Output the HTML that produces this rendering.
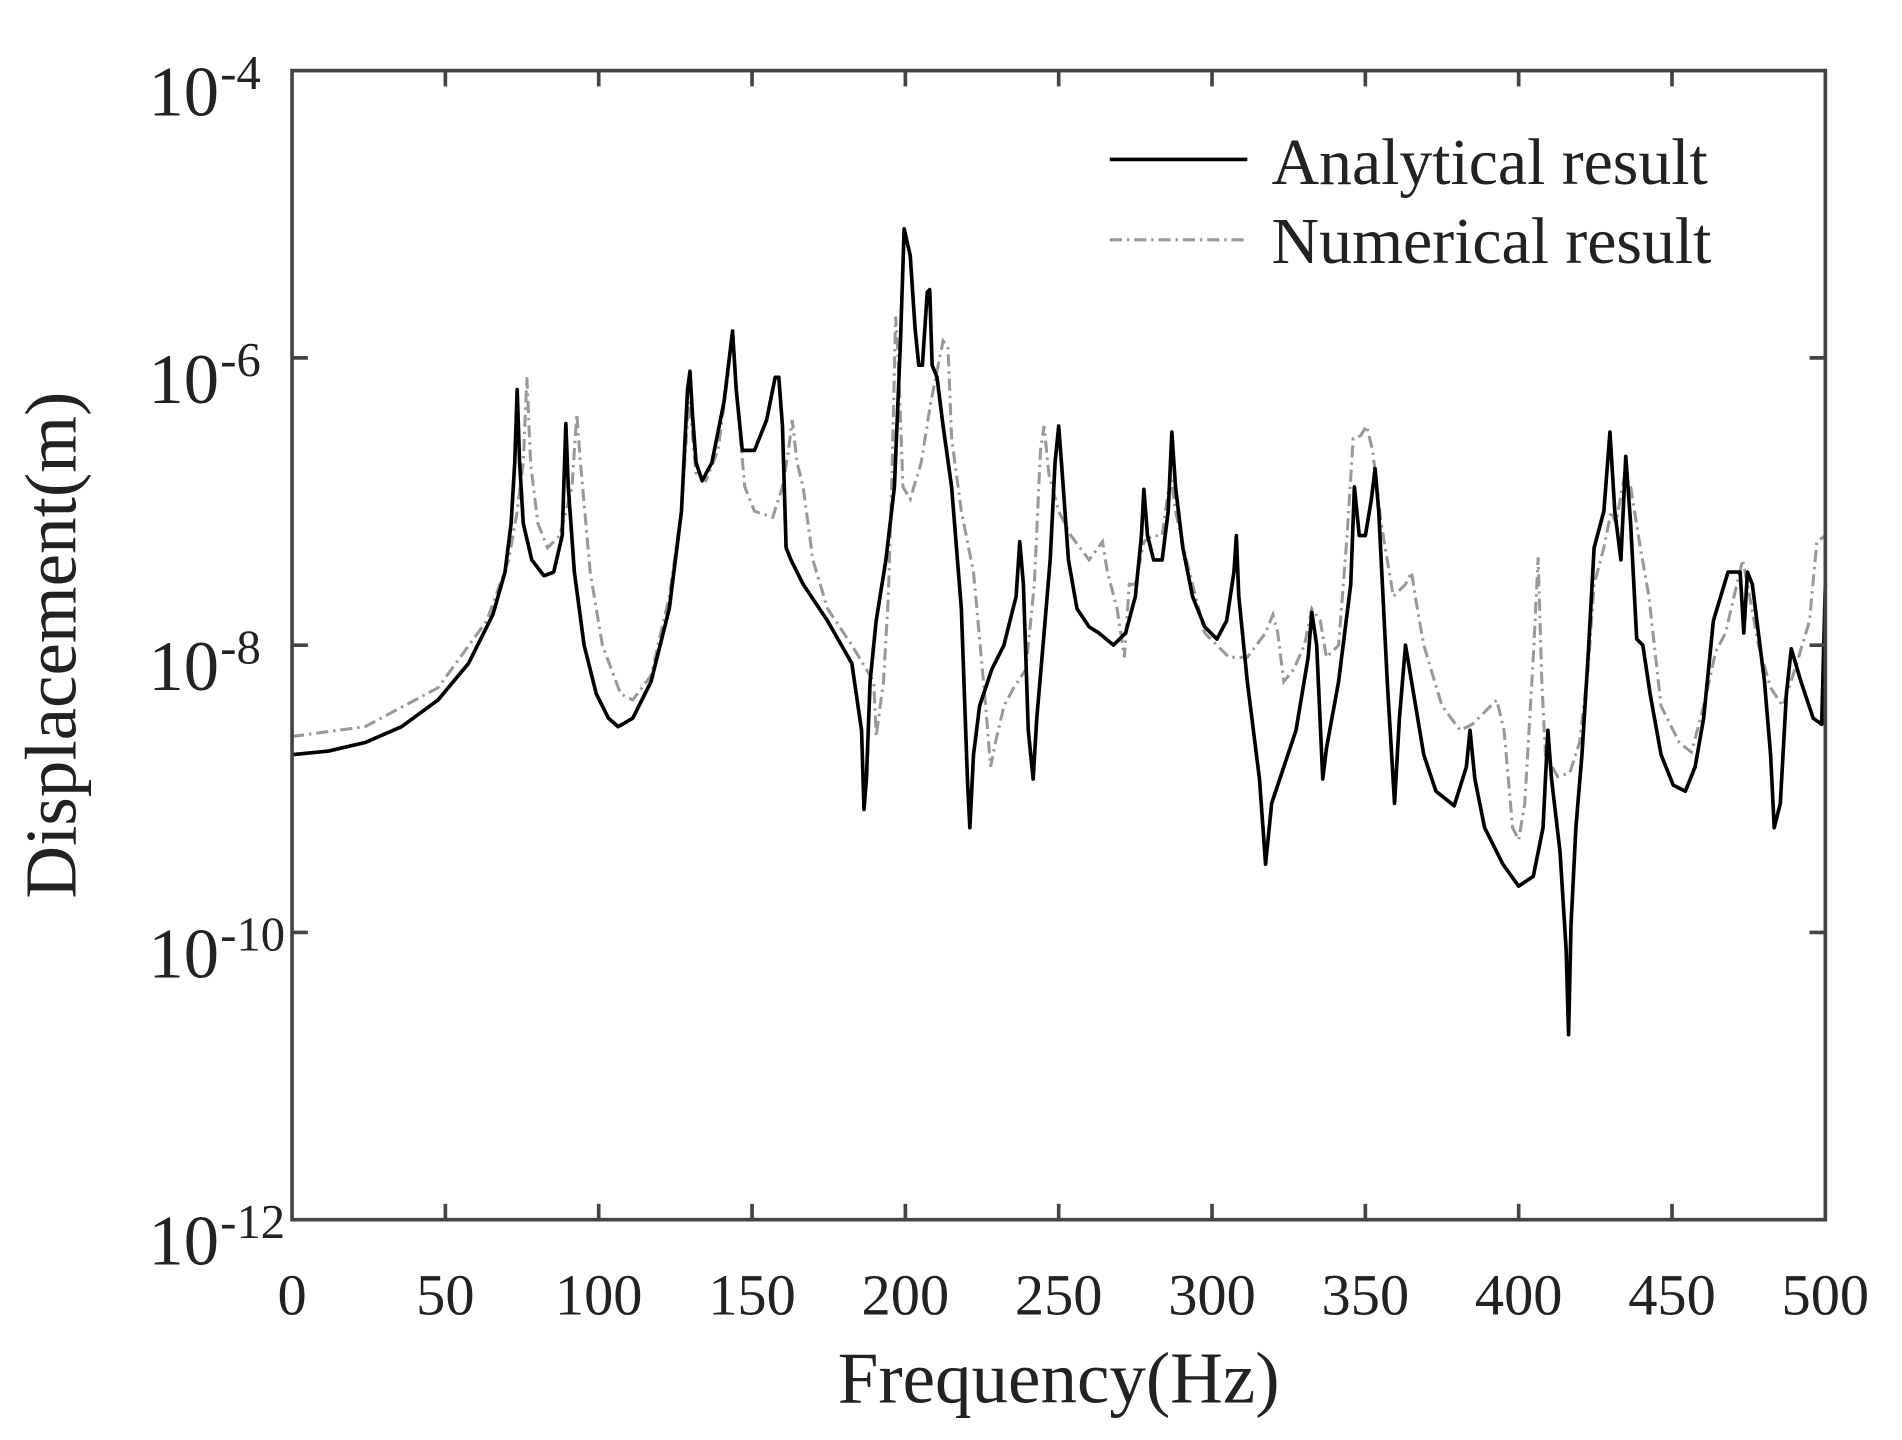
<!DOCTYPE html>
<html><head><meta charset="utf-8"><style>html,body{margin:0;padding:0;background:#fff;}svg{display:block}</style></head>
<body>
<svg width="1902" height="1440" viewBox="0 0 1563 1183" preserveAspectRatio="none" xmlns="http://www.w3.org/2000/svg">
<rect width="1563" height="1183" fill="#fff"/>
<g font-family="Liberation Serif, serif" fill="#222">
<g font-size="48" text-anchor="middle">
<text x="240" y="1080">0</text><text x="366" y="1080">50</text><text x="492" y="1080">100</text><text x="618" y="1080">150</text><text x="744" y="1080">200</text><text x="870" y="1080">250</text><text x="996" y="1080">300</text><text x="1122" y="1080">350</text><text x="1248" y="1080">400</text><text x="1374" y="1080">450</text><text x="1500" y="1080">500</text>
</g>
<g font-size="58" text-anchor="end">
<text x="180" y="95">10</text><text x="180" y="331">10</text><text x="180" y="567">10</text><text x="180" y="803">10</text><text x="180" y="1039">10</text>
</g>
<g font-size="40">
<text x="181" y="73">-4</text><text x="181" y="309">-6</text><text x="181" y="545">-8</text><text x="181" y="781">-10</text><text x="181" y="1017">-12</text>
</g>
<text x="870" y="1152" font-size="60" text-anchor="middle">Frequency(Hz)</text>
<text transform="translate(62,530) rotate(-90)" font-size="60" text-anchor="middle">Displacement(m)</text>
<text x="1045" y="151" font-size="54">Analytical result</text>
<text x="1045" y="216" font-size="54">Numerical result</text>
</g>
<line x1="912" y1="131" x2="1025" y2="131" stroke="#000" stroke-width="3"/>
<line x1="912" y1="197" x2="1025" y2="197" stroke="#999" stroke-width="2.5" stroke-dasharray="10,4,2,4"/>
<polyline fill="none" stroke="#999" stroke-width="2.5" stroke-dasharray="10,4,2,4" points="240,605 300,597 360,565 400,510 418,460 425,420 430,380 433,310 436,380 442,430 450,450 460,440 470,400 474,340 477,380 485,470 495,530 510,570 520,575 535,555 550,490 560,420 566,330 568,345 572,390 580,395 590,370 598,310 602,270 605,320 612,400 620,420 635,425 643,400 648,370 651,345 655,380 660,400 668,460 680,500 700,530 712,550 718,560 720,605 722,590 726,560 730,490 733,390 736,260 738,290 742,400 748,410 757,380 765,330 775,280 779,285 782,360 790,420 800,470 810,580 814,630 818,610 825,580 833,565 843,550 850,480 855,370 858,350 862,390 870,420 880,440 895,460 906,445 910,470 918,500 924,540 928,480 933,480 940,445 947,440 955,440 962,390 966,420 975,460 990,520 1010,540 1025,540 1040,520 1046,505 1050,520 1055,560 1063,550 1072,530 1078,500 1085,510 1090,540 1100,530 1107,440 1112,360 1118,358 1123,350 1128,370 1135,430 1145,490 1155,480 1160,470 1163,490 1170,530 1185,580 1200,600 1210,595 1225,580 1230,575 1236,600 1243,680 1248,690 1253,660 1260,540 1264,458 1267,560 1270,620 1280,638 1290,635 1298,610 1305,550 1310,480 1318,450 1324,420 1328,430 1335,390 1340,400 1348,450 1355,490 1365,580 1380,610 1390,618 1400,580 1410,535 1418,520 1425,490 1432,460 1436,480 1445,530 1455,565 1465,580 1475,550 1487,510 1493,445 1500,440"/>
<polyline fill="none" stroke="#000" stroke-width="3" stroke-linejoin="round" points="240,620 270,617 300,610 330,597 360,575 385,545 405,505 415,470 420,430 423,380 425,320 427,380 430,430 437,460 447,473 455,470 462,440 465,348 467,400 472,470 480,530 490,570 500,590 508,597 520,590 535,560 550,500 560,420 565,320 567,305 569,340 572,380 577,395 585,380 595,330 602,272 605,320 610,370 620,370 630,345 637,310 640,310 643,350 646,450 650,460 660,480 680,510 700,545 708,600 710,665 712,640 715,560 720,510 728,460 735,400 740,280 743,188 748,210 752,270 755,300 758,300 762,240 764,238 766,300 770,310 775,350 782,400 790,500 795,640 797,680 800,620 805,580 815,550 825,530 835,490 838,445 841,480 845,600 849,640 852,590 858,520 863,460 867,380 870,350 873,390 878,460 885,500 895,515 903,520 915,530 925,520 933,490 938,440 940,402 943,440 948,460 955,460 960,420 963,355 966,400 972,450 980,490 990,515 1000,525 1008,510 1014,470 1016,440 1018,490 1025,560 1035,640 1040,710 1045,660 1055,630 1065,600 1075,540 1078,503 1082,530 1087,640 1090,615 1100,560 1110,480 1113,400 1117,440 1122,440 1127,410 1130,385 1133,420 1140,560 1146,660 1150,590 1155,530 1160,560 1170,620 1180,650 1195,662 1205,630 1208,600 1212,640 1220,680 1235,710 1248,728 1260,720 1268,680 1272,600 1275,640 1282,700 1287,780 1289,850 1291,760 1295,680 1300,620 1305,540 1310,450 1318,420 1323,355 1327,420 1332,460 1336,375 1340,430 1345,525 1350,530 1356,570 1365,620 1375,645 1385,650 1393,630 1400,590 1408,510 1420,470 1430,470 1433,520 1436,470 1440,480 1445,520 1450,560 1455,620 1458,680 1463,660 1468,570 1472,533 1480,560 1490,590 1497,595 1500,480"/>
<g stroke="#444" stroke-width="3">
<rect x="240" y="58" width="1260" height="944" fill="none"/>
<path d="M366,1002v-13M492,1002v-13M618,1002v-13M744,1002v-13M870,1002v-13M996,1002v-13M1122,1002v-13M1248,1002v-13M1374,1002v-13M366,58v13M492,58v13M618,58v13M744,58v13M870,58v13M996,58v13M1122,58v13M1248,58v13M1374,58v13M240,294h13M240,530h13M240,766h13M1500,294h-13M1500,530h-13M1500,766h-13"/>
</g>
</svg>
</body></html>
